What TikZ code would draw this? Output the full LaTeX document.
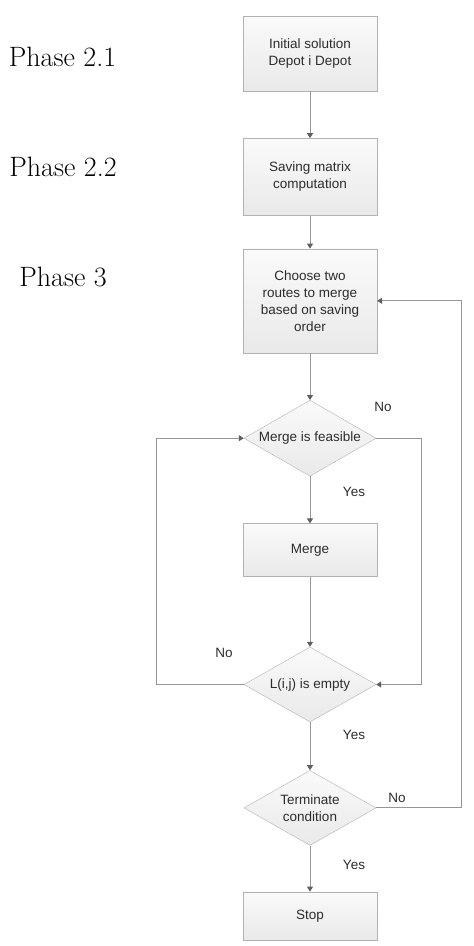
\documentclass[tikz,border=0pt]{standalone}
\usepackage{fontspec}
\newfontfamily\flowfont{Liberation Sans}
\usepackage{tikz}
\usetikzlibrary{
  arrows.meta,
  positioning,
  shapes.geometric,
}
\definecolor{boxtop}{RGB}{250, 250, 250}
\definecolor{boxbottom}{RGB}{233, 233, 233}
\definecolor{boxline}{RGB}{178, 178, 178}
\definecolor{flowline}{RGB}{150, 150, 150}
\definecolor{tipgray}{RGB}{95, 95, 95}
\definecolor{flowtext}{RGB}{45, 45, 45}
\tikzstyle{stepbox} = [
  draw=boxline,
  rectangle,
  top color=boxtop,
  bottom color=boxbottom,
  minimum width=134pt,
  align=center,
  inner sep=2pt,
  font=\flowfont\fontsize{13.5}{17}\selectfont,
  text=flowtext,
]
\tikzstyle{decision} = [
  draw=boxline,
  diamond,
  aspect=1.74,
  top color=boxtop,
  bottom color=boxbottom,
  minimum width=132pt,
  minimum height=76pt,
  inner sep=0pt,
  align=center,
  font=\flowfont\fontsize{13.5}{17}\selectfont,
  text=flowtext,
]
\tikzstyle{arrow} = [
  -{Triangle[width=6pt,length=5pt,color=tipgray]},
  line width=1pt,
  flowline,
]
\tikzstyle{answer} = [
  font=\flowfont\fontsize{13.5}{16}\selectfont,
  text=flowtext,
]
\tikzstyle{phase} = [
  font=\fontsize{28}{32}\selectfont,
  text=black,
]

\begin{document}
\begin{tikzpicture}[node distance=0mm and 0mm]
      \useasboundingbox (0pt,0pt) rectangle (474pt,-946pt);

      \node[stepbox,minimum height=75pt]    (init)   at (310pt,-53.5pt)   {Initial solution\\Depot i Depot};
      \node[stepbox,minimum height=77pt]    (saving) [below=47pt of init]   {Saving matrix\\computation};
      \node[stepbox,minimum height=104pt]   (choose) [below=33pt of saving] {Choose two\\routes to merge\\based on saving\\order};
      \node[decision]                       (feas)   [below=47pt of choose] {Merge is feasible};
      \node[stepbox,minimum height=53pt]    (merge)  [below=47pt of feas]   {Merge};
      \node[decision,minimum height=75pt]   (empty)  [below=70pt of merge]  {L(i,j) is empty};
      \node[decision,minimum height=75pt]   (term)   [below=48pt of empty]  {Terminate\\condition};
      \node[stepbox,minimum height=48pt]    (stop)   [below=46pt of term]   {Stop};

      \node[phase] (p21) at (62.5pt,-57pt)  {Phase 2.1};
      \node[phase] (p22) at (63pt,-167pt)   {Phase 2.2};
      \node[phase] (p3)  at (63pt,-277pt)   {Phase 3};

      \draw[arrow] (init) -- (saving);
      \draw[arrow] (saving) -- (choose);
      \draw[arrow] (choose) -- (feas);
      \draw[arrow] (feas) -- (merge);
      \draw[arrow] (merge) -- (empty);
      \draw[arrow] (empty) -- (term);
      \draw[arrow] (term) -- (stop);

      \draw[arrow] (feas.east) -- ++(45pt,0pt) |- (empty.east);
      \draw[arrow] (empty.west) -- ++(-87pt,0pt) |- (feas.west);
      \draw[arrow] (term.east) -- ++(85pt,0pt) |- (choose.east);

      \node[answer] (no1)  at (383pt,-407pt) {No};
      \node[answer] (yes1) at (354pt,-492pt) {Yes};
      \node[answer] (no2)  at (224pt,-653pt) {No};
      \node[answer] (yes2) at (354pt,-735pt) {Yes};
      \node[answer] (no3)  at (397pt,-798pt) {No};
      \node[answer] (yes3) at (354pt,-865pt) {Yes};

    \end{tikzpicture}
\end{document}
